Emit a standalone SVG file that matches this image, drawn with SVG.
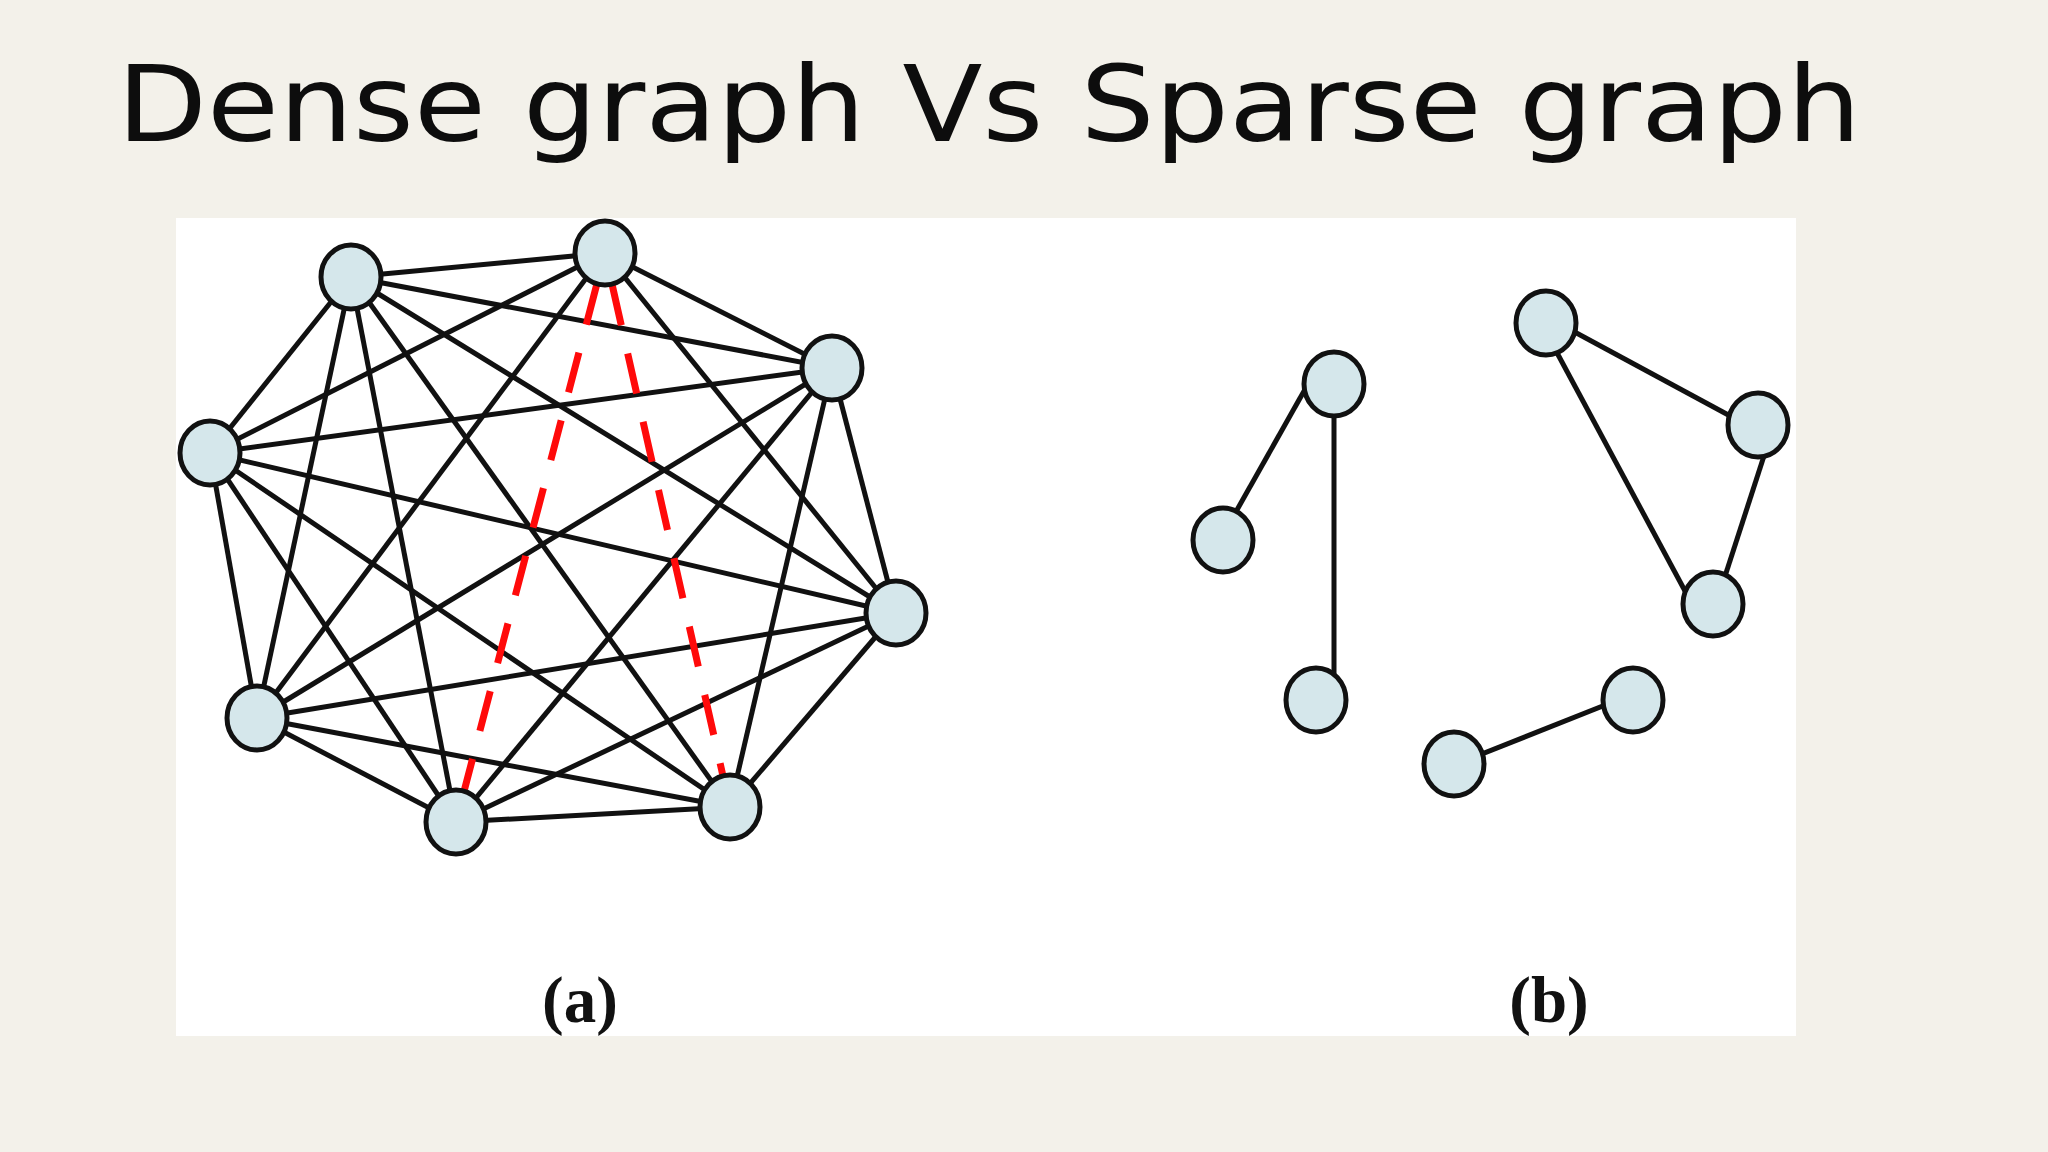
<svg xmlns="http://www.w3.org/2000/svg" width="2048" height="1152" viewBox="0 0 2048 1152">
<style>
.bg{fill:#f3f1ea}
.panel{fill:#ffffff}
.title{font-family:"DejaVu Sans","Liberation Sans",sans-serif;font-size:106px;fill:#0d0d0d}
.lbl{font-family:"Liberation Serif","Times New Roman",serif;font-weight:bold;font-size:65px;fill:#111111;text-anchor:middle}
.node{fill:#d5e7eb;stroke:#111111;stroke-width:5}
.edge{stroke:#111111;stroke-width:5;fill:none;stroke-linecap:butt}
.dash{stroke:#ff0a0a;stroke-width:7;fill:none;stroke-dasharray:41 29}
</style>
<rect class="bg" x="0" y="0" width="2048" height="1152"/>
<rect class="panel" x="176" y="218" width="1620" height="818"/>
<text class="title" x="117" y="141" textLength="1744" lengthAdjust="spacingAndGlyphs">Dense graph Vs Sparse graph</text>
<g id="connectors">
  <g id="dense-edges">
    <line class="edge" x1="351" y1="277" x2="605" y2="253"/>
    <line class="edge" x1="351" y1="277" x2="832" y2="368"/>
    <line class="edge" x1="351" y1="277" x2="210" y2="453"/>
    <line class="edge" x1="351" y1="277" x2="896" y2="613"/>
    <line class="edge" x1="351" y1="277" x2="257" y2="718"/>
    <line class="edge" x1="351" y1="277" x2="456" y2="822"/>
    <line class="edge" x1="351" y1="277" x2="730" y2="807"/>
    <line class="edge" x1="605" y1="253" x2="832" y2="368"/>
    <line class="edge" x1="605" y1="253" x2="210" y2="453"/>
    <line class="edge" x1="605" y1="253" x2="896" y2="613"/>
    <line class="edge" x1="605" y1="253" x2="257" y2="718"/>
    <line class="edge" x1="832" y1="368" x2="210" y2="453"/>
    <line class="edge" x1="832" y1="368" x2="896" y2="613"/>
    <line class="edge" x1="832" y1="368" x2="257" y2="718"/>
    <line class="edge" x1="832" y1="368" x2="456" y2="822"/>
    <line class="edge" x1="832" y1="368" x2="730" y2="807"/>
    <line class="edge" x1="210" y1="453" x2="896" y2="613"/>
    <line class="edge" x1="210" y1="453" x2="257" y2="718"/>
    <line class="edge" x1="210" y1="453" x2="456" y2="822"/>
    <line class="edge" x1="210" y1="453" x2="730" y2="807"/>
    <line class="edge" x1="896" y1="613" x2="257" y2="718"/>
    <line class="edge" x1="896" y1="613" x2="456" y2="822"/>
    <line class="edge" x1="896" y1="613" x2="730" y2="807"/>
    <line class="edge" x1="257" y1="718" x2="456" y2="822"/>
    <line class="edge" x1="257" y1="718" x2="730" y2="807"/>
    <line class="edge" x1="456" y1="822" x2="730" y2="807"/>
    <line class="dash" x1="605" y1="253" x2="456" y2="822" stroke-dashoffset="37"/>
    <line class="dash" x1="605" y1="253" x2="730" y2="807" stroke-dashoffset="37"/>
  </g>
  <g id="sparse-edges">
    <line class="edge" x1="1308" y1="384" x2="1220" y2="540"/>
    <line class="edge" x1="1334" y1="384" x2="1334" y2="700"/>
    <line class="edge" x1="1545" y1="316" x2="1758" y2="431"/>
    <line class="edge" x1="1541" y1="323" x2="1692" y2="604"/>
    <line class="edge" x1="1774" y1="425" x2="1716" y2="604"/>
    <line class="edge" x1="1633" y1="694" x2="1454" y2="765"/>
  </g>
</g>
<g id="a1"><ellipse class="node" cx="351" cy="277" rx="30" ry="32"/></g>
<g id="a2"><ellipse class="node" cx="605" cy="253" rx="30" ry="32"/></g>
<g id="a3"><ellipse class="node" cx="832" cy="368" rx="30" ry="32"/></g>
<g id="a4"><ellipse class="node" cx="210" cy="453" rx="30" ry="32"/></g>
<g id="a5"><ellipse class="node" cx="896" cy="613" rx="30" ry="32"/></g>
<g id="a6"><ellipse class="node" cx="257" cy="718" rx="30" ry="32"/></g>
<g id="a7"><ellipse class="node" cx="456" cy="822" rx="30" ry="32"/></g>
<g id="a8"><ellipse class="node" cx="730" cy="807" rx="30" ry="32"/></g>
<g id="b1"><ellipse class="node" cx="1334" cy="384" rx="30" ry="32"/></g>
<g id="b2"><ellipse class="node" cx="1223" cy="540" rx="30" ry="32"/></g>
<g id="b3"><ellipse class="node" cx="1316" cy="700" rx="30" ry="32"/></g>
<g id="b4"><ellipse class="node" cx="1546" cy="323" rx="30" ry="32"/></g>
<g id="b5"><ellipse class="node" cx="1758" cy="425" rx="30" ry="32"/></g>
<g id="b6"><ellipse class="node" cx="1713" cy="604" rx="30" ry="32"/></g>
<g id="b7"><ellipse class="node" cx="1633" cy="700" rx="30" ry="32"/></g>
<g id="b8"><ellipse class="node" cx="1454" cy="764" rx="30" ry="32"/></g>
<g id="label-a"><text class="lbl" x="580" y="1022">(a)</text></g>
<g id="label-b"><text class="lbl" x="1549" y="1022">(b)</text></g>
</svg>
